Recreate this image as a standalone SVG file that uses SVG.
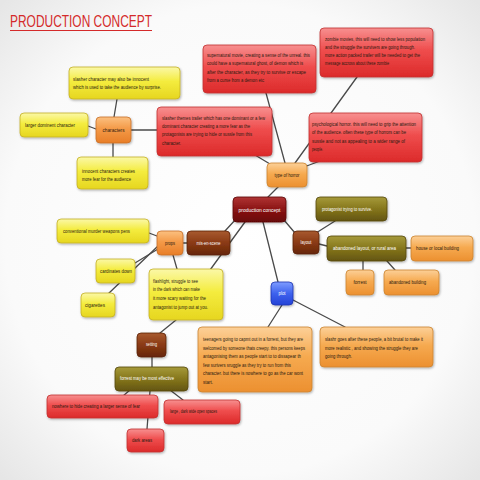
<svg xmlns="http://www.w3.org/2000/svg" width="480" height="480" viewBox="0 0 480 480">
<defs>
<radialGradient id="bg" cx="50%" cy="50%" r="70%">
<stop offset="0" stop-color="#ffffff"/><stop offset="0.7" stop-color="#fafafa"/><stop offset="1" stop-color="#e6e6e6"/>
</radialGradient>
<linearGradient id="gRed" x1="0" y1="0" x2="0" y2="1">
<stop offset="0" stop-color="#f79090"/><stop offset="0.45" stop-color="#ef4d4d"/><stop offset="1" stop-color="#dc2a2a"/>
</linearGradient>
<linearGradient id="gYel" x1="0" y1="0" x2="0" y2="1">
<stop offset="0" stop-color="#fbf8a8"/><stop offset="0.45" stop-color="#f4ec3e"/><stop offset="1" stop-color="#e6d620"/>
</linearGradient>
<linearGradient id="gOra" x1="0" y1="0" x2="0" y2="1">
<stop offset="0" stop-color="#fcd098"/><stop offset="0.45" stop-color="#f6aa50"/><stop offset="1" stop-color="#ec9030"/>
</linearGradient>
<linearGradient id="gOra2" x1="0" y1="0" x2="0" y2="1">
<stop offset="0" stop-color="#fbc080"/><stop offset="0.45" stop-color="#f49a48"/><stop offset="1" stop-color="#e87e28"/>
</linearGradient>
<linearGradient id="gDred" x1="0" y1="0" x2="0" y2="1">
<stop offset="0" stop-color="#b03434"/><stop offset="0.5" stop-color="#8a1414"/><stop offset="1" stop-color="#680808"/>
</linearGradient>
<linearGradient id="gBrn" x1="0" y1="0" x2="0" y2="1">
<stop offset="0" stop-color="#a85a30"/><stop offset="0.5" stop-color="#8a3a14"/><stop offset="1" stop-color="#66260a"/>
</linearGradient>
<linearGradient id="gOli" x1="0" y1="0" x2="0" y2="1">
<stop offset="0" stop-color="#a69a3a"/><stop offset="0.5" stop-color="#85761c"/><stop offset="1" stop-color="#635510"/>
</linearGradient>
<linearGradient id="gBlu" x1="0" y1="0" x2="0" y2="1">
<stop offset="0" stop-color="#7e9cff"/><stop offset="0.5" stop-color="#3e62ee"/><stop offset="1" stop-color="#2442d6"/>
</linearGradient>
<filter id="sh" x="-20%" y="-20%" width="140%" height="150%">
<feDropShadow dx="0.8" dy="1.2" stdDeviation="1" flood-color="#000" flood-opacity="0.3"/>
</filter>
</defs>
<style>
.r{filter:url(#sh);stroke-width:0.8}
.red{fill:url(#gRed);stroke:#c23030}
.yel{fill:url(#gYel);stroke:#c4b024}
.ora{fill:url(#gOra);stroke:#cc8430}
.ora2{fill:url(#gOra2);stroke:#c8702a}
.dred{fill:url(#gDred);stroke:#5a0606}
.brn{fill:url(#gBrn);stroke:#5a2208}
.oli{fill:url(#gOli);stroke:#544810}
.blu{fill:url(#gBlu);stroke:#1c34b0}
text{font-family:"Liberation Sans",Arial,sans-serif;font-size:5px;fill:#2a1a10}
.w{fill:#ffffff}
.c{text-anchor:middle}
#connectors line{stroke:#4a4a4a;stroke-width:1.3;stroke-linecap:round}
</style>
<rect x="0" y="0" width="480" height="480" fill="url(#bg)"/>
<g id="title">
<text x="10" y="27" textLength="142" lengthAdjust="spacingAndGlyphs" style="font-size:16px;fill:#d42a2a">PRODUCTION CONCEPT</text>
<line x1="10" y1="30.5" x2="152" y2="30.5" stroke="#d42a2a" stroke-width="1"/>
</g>
<g id="connectors">
<line x1="117" y1="99" x2="114" y2="117"/>
<line x1="88" y1="126" x2="96" y2="129"/>
<line x1="113" y1="143" x2="113" y2="157"/>
<line x1="131" y1="130" x2="157" y2="130"/>
<line x1="255" y1="155" x2="270" y2="164"/>
<line x1="266" y1="93" x2="285" y2="163"/>
<line x1="357" y1="77" x2="295" y2="163"/>
<line x1="320" y1="161" x2="304" y2="167"/>
<line x1="278" y1="187" x2="268" y2="197"/>
<line x1="236" y1="219" x2="225" y2="231"/>
<line x1="245" y1="222" x2="210" y2="270"/>
<line x1="284" y1="220" x2="295" y2="233"/>
<line x1="263" y1="222" x2="278" y2="282"/>
<line x1="316" y1="233" x2="335" y2="221"/>
<line x1="319" y1="244" x2="327" y2="246"/>
<line x1="406" y1="248" x2="411" y2="248"/>
<line x1="363" y1="261" x2="363" y2="270"/>
<line x1="387" y1="261" x2="395" y2="270"/>
<line x1="183" y1="243" x2="187" y2="243"/>
<line x1="149" y1="233" x2="157" y2="236"/>
<line x1="158" y1="249" x2="135" y2="263"/>
<line x1="158" y1="246" x2="108" y2="294"/>
<line x1="173" y1="255" x2="177" y2="269"/>
<line x1="176" y1="320" x2="160" y2="333"/>
<line x1="282" y1="305" x2="268" y2="327"/>
<line x1="293" y1="300" x2="345" y2="327"/>
<line x1="152" y1="357" x2="152" y2="367"/>
<line x1="130" y1="390" x2="123" y2="396"/>
<line x1="170" y1="390" x2="183" y2="400"/>
<line x1="150" y1="391" x2="147" y2="429"/>
</g>
<g id="n-slasher-innocent">
<rect class="r yel" x="69" y="67" width="111" height="32" rx="4"/>
<text x="73" y="81" textLength="76" lengthAdjust="spacingAndGlyphs">slasher character may also be innocent</text>
<text x="73" y="89" textLength="88" lengthAdjust="spacingAndGlyphs">which is used to take the audience by surprise.</text>
</g>
<g id="n-larger">
<rect class="r yel" x="20" y="113" width="68" height="24" rx="4"/>
<text x="25" y="127" textLength="50" lengthAdjust="spacingAndGlyphs">larger dominent character</text>
</g>
<g id="n-characters">
<rect class="r ora2" x="96" y="117" width="35" height="26" rx="4"/>
<text class="c" x="113.5" y="132" textLength="22" lengthAdjust="spacingAndGlyphs">characters</text>
</g>
<g id="n-innocent">
<rect class="r yel" x="77" y="157" width="71" height="32" rx="4"/>
<text x="82" y="173" textLength="53" lengthAdjust="spacingAndGlyphs">innocent characters creates</text>
<text x="82" y="181" textLength="49" lengthAdjust="spacingAndGlyphs">more fear for the audience</text>
</g>
<g id="n-slasher-themes">
<rect class="r red" x="157" y="107" width="115" height="49" rx="4"/>
<text x="162" y="120" textLength="103" lengthAdjust="spacingAndGlyphs">slasher themes trailer which has one dominant or a few</text>
<text x="162" y="128" textLength="88" lengthAdjust="spacingAndGlyphs">dominant character creating a more fear as the</text>
<text x="162" y="136" textLength="90" lengthAdjust="spacingAndGlyphs">protagonists are trying to hide or sussle from this</text>
<text x="162" y="145" textLength="19" lengthAdjust="spacingAndGlyphs">character.</text>
</g>
<g id="n-supernatural">
<rect class="r red" x="203" y="45" width="113" height="48" rx="4"/>
<text x="207" y="57" textLength="103" lengthAdjust="spacingAndGlyphs">supernatural movie, creating a sense of the unreal. this</text>
<text x="207" y="65" textLength="96" lengthAdjust="spacingAndGlyphs">could have a supernatural ghost, of demon which is</text>
<text x="207" y="74" textLength="99" lengthAdjust="spacingAndGlyphs">after the character, as they try to survive or escape</text>
<text x="207" y="82" textLength="57" lengthAdjust="spacingAndGlyphs">from a curse from a demon etc</text>
</g>
<g id="n-zombie">
<rect class="r red" x="320" y="28" width="113" height="49" rx="4"/>
<text x="325" y="41" textLength="100" lengthAdjust="spacingAndGlyphs">zombie movies, this will need to show less population</text>
<text x="325" y="49" textLength="90" lengthAdjust="spacingAndGlyphs">and the struggle the survivers are going through.</text>
<text x="325" y="57" textLength="95" lengthAdjust="spacingAndGlyphs">more action packed trailer will be needed to get the</text>
<text x="325" y="65" textLength="64" lengthAdjust="spacingAndGlyphs">message accross about these zombie</text>
</g>
<g id="n-psychological">
<rect class="r red" x="309" y="113" width="113" height="49" rx="4"/>
<text x="312" y="126" textLength="104" lengthAdjust="spacingAndGlyphs">psychological horror. this will need to grip the attention</text>
<text x="312" y="134" textLength="94" lengthAdjust="spacingAndGlyphs">of the audience. often these type of horrors can be</text>
<text x="312" y="143" textLength="93" lengthAdjust="spacingAndGlyphs">sussle and not as appealing to a wider range of</text>
<text x="312" y="151" textLength="11" lengthAdjust="spacingAndGlyphs">people.</text>
</g>
<g id="n-type-of-horror">
<rect class="r ora" x="267" y="163" width="40" height="24" rx="4"/>
<text class="c" x="287" y="177" textLength="25" lengthAdjust="spacingAndGlyphs">type of horror</text>
</g>
<g id="n-production-concept">
<rect class="r dred" x="233" y="197" width="53" height="25" rx="4"/>
<text class="c w" x="259.5" y="212" textLength="42" lengthAdjust="spacingAndGlyphs">production concept</text>
</g>
<g id="n-protagonist">
<rect class="r oli" x="316" y="197" width="71" height="24" rx="4"/>
<text class="w" x="322" y="211" textLength="50" lengthAdjust="spacingAndGlyphs">protagonist trying to survive.</text>
</g>
<g id="n-layout">
<rect class="r brn" x="293" y="231" width="26" height="23" rx="4"/>
<text class="c w" x="306" y="244" textLength="11" lengthAdjust="spacingAndGlyphs">layout</text>
</g>
<g id="n-abandoned-layout">
<rect class="r oli" x="327" y="236" width="79" height="25" rx="4"/>
<text class="w" x="333" y="250" textLength="63" lengthAdjust="spacingAndGlyphs">abandoned layout, or rural area</text>
</g>
<g id="n-house">
<rect class="r ora" x="411" y="236" width="62" height="25" rx="4"/>
<text x="416" y="250" textLength="43" lengthAdjust="spacingAndGlyphs">house or local building</text>
</g>
<g id="n-forrest">
<rect class="r ora" x="346" y="270" width="28" height="25" rx="4"/>
<text class="c" x="360" y="284" textLength="13" lengthAdjust="spacingAndGlyphs">forrest</text>
</g>
<g id="n-abandoned-building">
<rect class="r ora" x="384" y="270" width="55" height="25" rx="4"/>
<text x="389" y="284" textLength="37" lengthAdjust="spacingAndGlyphs">abandoned building</text>
</g>
<g id="n-plot">
<rect class="r blu" x="271" y="282" width="22" height="23" rx="4"/>
<text class="c w" x="282" y="295" textLength="7" lengthAdjust="spacingAndGlyphs">plot</text>
</g>
<g id="n-mis-en-scene">
<rect class="r brn" x="187" y="231" width="43" height="24" rx="4"/>
<text class="c w" x="208.5" y="245" textLength="24" lengthAdjust="spacingAndGlyphs">mis-en-scene</text>
</g>
<g id="n-props">
<rect class="r ora2" x="157" y="231" width="26" height="24" rx="4"/>
<text class="c" x="170" y="245" textLength="10" lengthAdjust="spacingAndGlyphs">props</text>
</g>
<g id="n-weapons">
<rect class="r yel" x="57" y="219" width="92" height="24" rx="4"/>
<text x="63" y="233" textLength="67" lengthAdjust="spacingAndGlyphs">conventional murder weapons pens</text>
</g>
<g id="n-cardinates">
<rect class="r yel" x="96" y="259" width="39" height="24" rx="4"/>
<text x="100" y="273" textLength="32" lengthAdjust="spacingAndGlyphs">cardinates down</text>
</g>
<g id="n-cigarettes">
<rect class="r yel" x="81" y="293" width="34" height="24" rx="4"/>
<text x="85" y="307" textLength="20" lengthAdjust="spacingAndGlyphs">cigarettes</text>
</g>
<g id="n-flashlight">
<rect class="r yel" x="149" y="269" width="74" height="51" rx="4"/>
<text x="153" y="283" textLength="45" lengthAdjust="spacingAndGlyphs">flashlight, struggle to see</text>
<text x="153" y="291" textLength="47" lengthAdjust="spacingAndGlyphs">in the dark which can make</text>
<text x="153" y="300" textLength="53" lengthAdjust="spacingAndGlyphs">it more scary waiting for the</text>
<text x="153" y="309" textLength="55" lengthAdjust="spacingAndGlyphs">antagonist to jump out at you.</text>
</g>
<g id="n-setting">
<rect class="r brn" x="137" y="333" width="29" height="24" rx="4"/>
<text class="c w" x="151.5" y="346" textLength="11" lengthAdjust="spacingAndGlyphs">setting</text>
</g>
<g id="n-forrest-effective">
<rect class="r oli" x="115" y="367" width="73" height="24" rx="4"/>
<text class="w" x="120" y="380" textLength="54" lengthAdjust="spacingAndGlyphs">forrest may be most effective</text>
</g>
<g id="n-nowhere">
<rect class="r red" x="47" y="395" width="111" height="23" rx="4"/>
<text x="52" y="408" textLength="88" lengthAdjust="spacingAndGlyphs">nowhere to hide creating a larger sense of fear</text>
</g>
<g id="n-large-dark">
<rect class="r red" x="164" y="400" width="76" height="24" rx="4"/>
<text x="170" y="413" textLength="47" lengthAdjust="spacingAndGlyphs">large , dark wide open spaces</text>
</g>
<g id="n-dark-areas">
<rect class="r red" x="127" y="429" width="37" height="23" rx="4"/>
<text x="132" y="442" textLength="20" lengthAdjust="spacingAndGlyphs">dark areas</text>
</g>
<g id="n-teenagers">
<rect class="r ora" x="198" y="327" width="114" height="65" rx="4"/>
<text x="203" y="341" textLength="100" lengthAdjust="spacingAndGlyphs">teenagers going to capmt out in a forrest, but they are</text>
<text x="203" y="349.5" textLength="102" lengthAdjust="spacingAndGlyphs">welcomed by someone thats creepy. this persons keeps</text>
<text x="203" y="358" textLength="98" lengthAdjust="spacingAndGlyphs">antagonising them as people start to to dissapear th</text>
<text x="203" y="366.5" textLength="88" lengthAdjust="spacingAndGlyphs">few surivers sruggle as they try to run from this</text>
<text x="203" y="375" textLength="100" lengthAdjust="spacingAndGlyphs">character. but there is nowhere to go as the car wont</text>
<text x="203" y="383.5" textLength="10" lengthAdjust="spacingAndGlyphs">start.</text>
</g>
<g id="n-slashr">
<rect class="r ora" x="320" y="327" width="113" height="40" rx="4"/>
<text x="325" y="341" textLength="98" lengthAdjust="spacingAndGlyphs">slashr goes after these people, a bit brutal to make it</text>
<text x="325" y="349.5" textLength="93" lengthAdjust="spacingAndGlyphs">more realistic , and showing the struggle they are</text>
<text x="325" y="358" textLength="27" lengthAdjust="spacingAndGlyphs">going through.</text>
</g>
</svg>
